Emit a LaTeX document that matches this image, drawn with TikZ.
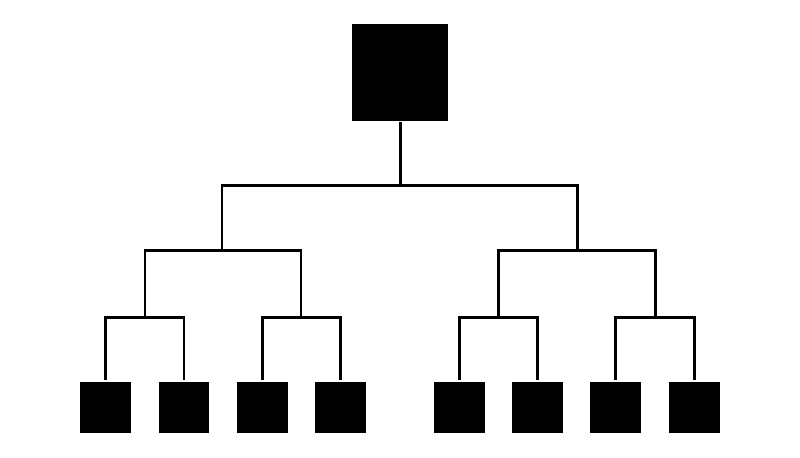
\documentclass[tikz,border=0pt]{standalone}
\usepackage{tikz}

\begin{document}
\begin{tikzpicture}[x=0.02cm, y=-0.02cm, line width=1.7pt,
    rootbox/.style = {fill=black, inner sep=0pt, minimum size=1.94cm},
    leafbox/.style = {fill=black, inner sep=0pt, minimum size=1.02cm}]
    \useasboundingbox (0,0) rectangle (800,457);

    \node[rootbox] (Root) at (400, 72.5) {};
    \foreach \name/\x in {A/105.5, B/184, C/262.5, D/340.5, E/459, F/537.5, G/615.5, H/694}
        \node[leafbox] (L\name) at (\x, 407) {};

    \coordinate (J0) at (400, 185);
    \coordinate (JL) at (222, 250);
    \coordinate (JR) at (577, 250);
    \coordinate (JLL) at (145, 317);
    \coordinate (JLR) at (301, 317);
    \coordinate (JRL) at (498, 317);
    \coordinate (JRR) at (655, 317);

    \draw (Root.south) -- (J0);
    \draw (JL) |- (J0) -| (JR);
    \draw (JLL) |- (JL) -| (JLR);
    \draw (JRL) |- (JR) -| (JRR);
    \draw (LA.north) |- (JLL) -| (LB.north);
    \draw (LC.north) |- (JLR) -| (LD.north);
    \draw (LE.north) |- (JRL) -| (LF.north);
    \draw (LG.north) |- (JRR) -| (LH.north);
\end{tikzpicture}
\end{document}
